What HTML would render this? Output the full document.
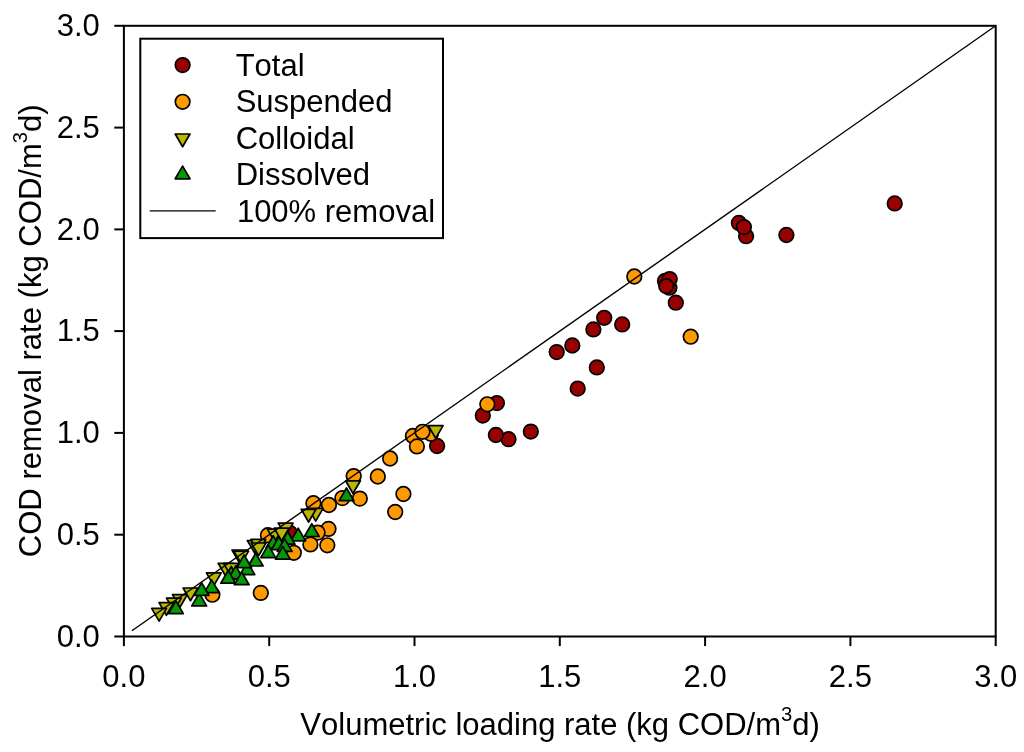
<!DOCTYPE html>
<html lang="en"><head><meta charset="utf-8"><title>COD removal rate vs volumetric loading rate</title>
<style>
html,body{margin:0;padding:0;background:#fff;}
body{width:1024px;height:752px;overflow:hidden;}
svg{display:block;}
text{font-family:"Liberation Sans",Arial,Helvetica,sans-serif;font-size:31px;fill:#000;font-kerning:none;}
.sup{font-size:20.2px;}
.ax{stroke:#000;stroke-width:2;fill:none;stroke-linecap:butt;}
.mk{stroke:#000;stroke-width:1.7;stroke-linejoin:round;}
</style></head><body>
<svg width="1024" height="752" viewBox="0 0 1024 752">
<rect x="0" y="0" width="1024" height="752" fill="#fff"/>

<g class="mk">
<circle cx="894.7" cy="203.4" r="7.3" fill="#990000"/>
<circle cx="786.4" cy="235.0" r="7.3" fill="#990000"/>
<circle cx="738.9" cy="222.9" r="7.3" fill="#990000"/>
<circle cx="746.1" cy="236.2" r="7.3" fill="#990000"/>
<circle cx="743.9" cy="227.1" r="7.3" fill="#990000"/>
<circle cx="556.7" cy="352.1" r="7.3" fill="#990000"/>
<circle cx="572.3" cy="345.5" r="7.3" fill="#990000"/>
<circle cx="593.4" cy="329.4" r="7.3" fill="#990000"/>
<circle cx="604.2" cy="317.8" r="7.3" fill="#990000"/>
<circle cx="622.2" cy="324.4" r="7.3" fill="#990000"/>
<circle cx="596.8" cy="367.4" r="7.3" fill="#990000"/>
<circle cx="577.7" cy="388.6" r="7.3" fill="#990000"/>
<circle cx="675.8" cy="302.7" r="7.3" fill="#990000"/>
<circle cx="665.0" cy="281.0" r="7.3" fill="#990000"/>
<circle cx="669.4" cy="287.7" r="7.3" fill="#990000"/>
<circle cx="669.7" cy="279.1" r="7.3" fill="#990000"/>
<circle cx="666.2" cy="286.1" r="7.3" fill="#990000"/>
<circle cx="530.8" cy="431.6" r="7.3" fill="#990000"/>
<circle cx="508.5" cy="439.2" r="7.3" fill="#990000"/>
<circle cx="495.9" cy="435.0" r="7.3" fill="#990000"/>
<circle cx="482.8" cy="415.5" r="7.3" fill="#990000"/>
<circle cx="496.9" cy="403.1" r="7.3" fill="#990000"/>
<circle cx="437.1" cy="446.0" r="7.3" fill="#990000"/>
<circle cx="289.9" cy="533.0" r="7.3" fill="#990000"/>
<circle cx="634.3" cy="276.5" r="7.3" fill="#ff9900"/>
<circle cx="690.7" cy="336.7" r="7.3" fill="#ff9900"/>
<circle cx="487.3" cy="404.3" r="7.3" fill="#ff9900"/>
<circle cx="412.9" cy="436.0" r="7.3" fill="#ff9900"/>
<circle cx="430.9" cy="433.8" r="7.3" fill="#ff9900"/>
<circle cx="422.5" cy="431.8" r="7.3" fill="#ff9900"/>
<circle cx="416.9" cy="446.4" r="7.3" fill="#ff9900"/>
<circle cx="403.4" cy="494.0" r="7.3" fill="#ff9900"/>
<circle cx="395.2" cy="512.0" r="7.3" fill="#ff9900"/>
<circle cx="390.1" cy="458.5" r="7.3" fill="#ff9900"/>
<circle cx="377.8" cy="476.5" r="7.3" fill="#ff9900"/>
<circle cx="353.7" cy="476.1" r="7.3" fill="#ff9900"/>
<circle cx="359.8" cy="498.6" r="7.3" fill="#ff9900"/>
<circle cx="342.4" cy="498.1" r="7.3" fill="#ff9900"/>
<circle cx="328.9" cy="505.0" r="7.3" fill="#ff9900"/>
<circle cx="313.4" cy="503.2" r="7.3" fill="#ff9900"/>
<circle cx="328.5" cy="528.9" r="7.3" fill="#ff9900"/>
<circle cx="317.6" cy="532.6" r="7.3" fill="#ff9900"/>
<circle cx="310.4" cy="544.4" r="7.3" fill="#ff9900"/>
<circle cx="327.3" cy="545.3" r="7.3" fill="#ff9900"/>
<circle cx="293.8" cy="552.8" r="7.3" fill="#ff9900"/>
<circle cx="267.9" cy="535.2" r="7.3" fill="#ff9900"/>
<circle cx="212.4" cy="594.7" r="7.3" fill="#ff9900"/>
<circle cx="260.8" cy="592.9" r="7.3" fill="#ff9900"/>
<path d="M428.3 425.6H443.1L435.7 438.3Z" fill="#b8b800"/>
<path d="M345.6 480.8H360.4L353.0 493.5Z" fill="#b8b800"/>
<path d="M308.3 508.4H323.1L315.7 521.1Z" fill="#b8b800"/>
<path d="M301.2 509.3H316.0L308.6 522.0Z" fill="#b8b800"/>
<path d="M278.2 523.1H293.0L285.6 535.8Z" fill="#b8b800"/>
<path d="M267.3 529.1H282.1L274.7 541.8Z" fill="#b8b800"/>
<path d="M274.2 528.2H289.0L281.6 540.9Z" fill="#b8b800"/>
<path d="M247.4 540.6H262.2L254.8 553.3Z" fill="#b8b800"/>
<path d="M250.9 539.4H265.7L258.3 552.1Z" fill="#b8b800"/>
<path d="M251.2 543.0H266.0L258.6 555.7Z" fill="#b8b800"/>
<path d="M232.0 550.0H246.8L239.4 562.7Z" fill="#b8b800"/>
<path d="M233.8 551.1H248.6L241.2 563.8Z" fill="#b8b800"/>
<path d="M218.2 563.3H233.0L225.6 576.0Z" fill="#b8b800"/>
<path d="M223.6 563.4H238.4L231.0 576.1Z" fill="#b8b800"/>
<path d="M206.4 572.9H221.2L213.8 585.6Z" fill="#b8b800"/>
<path d="M183.1 588.0H197.9L190.5 600.7Z" fill="#b8b800"/>
<path d="M172.5 594.6H187.3L179.9 607.3Z" fill="#b8b800"/>
<path d="M166.5 598.1H181.3L173.9 610.8Z" fill="#b8b800"/>
<path d="M159.0 602.6H173.8L166.4 615.3Z" fill="#b8b800"/>
<path d="M151.7 608.4H166.5L159.1 621.1Z" fill="#b8b800"/>
<path d="M339.1 500.7H353.9L346.5 488.0Z" fill="#069906"/>
<path d="M304.4 536.5H319.2L311.8 523.8Z" fill="#069906"/>
<path d="M290.8 540.9H305.6L298.2 528.2Z" fill="#069906"/>
<path d="M280.2 544.2H295.0L287.6 531.5Z" fill="#069906"/>
<path d="M265.8 548.4H280.6L273.2 535.7Z" fill="#069906"/>
<path d="M271.5 549.6H286.3L278.9 536.9Z" fill="#069906"/>
<path d="M277.2 551.4H292.0L284.6 538.7Z" fill="#069906"/>
<path d="M260.8 557.6H275.6L268.2 544.9Z" fill="#069906"/>
<path d="M275.4 559.1H290.2L282.8 546.4Z" fill="#069906"/>
<path d="M240.0 574.6H254.8L247.4 561.9Z" fill="#069906"/>
<path d="M248.3 566.0H263.1L255.7 553.3Z" fill="#069906"/>
<path d="M236.7 567.7H251.5L244.1 555.0Z" fill="#069906"/>
<path d="M223.9 579.2H238.7L231.3 566.5Z" fill="#069906"/>
<path d="M228.4 578.7H243.2L235.8 566.0Z" fill="#069906"/>
<path d="M220.8 583.2H235.6L228.2 570.5Z" fill="#069906"/>
<path d="M234.3 584.7H249.1L241.7 572.0Z" fill="#069906"/>
<path d="M204.3 592.6H219.1L211.7 579.9Z" fill="#069906"/>
<path d="M191.8 605.9H206.6L199.2 593.2Z" fill="#069906"/>
<path d="M194.2 595.4H209.0L201.6 582.7Z" fill="#069906"/>
<path d="M168.5 613.6H183.3L175.9 600.9Z" fill="#069906"/>
</g>
<line x1="131.9" y1="630.8" x2="995.7" y2="25.8" stroke="#000" stroke-width="1.4"/>
<rect class="ax" x="123.9" y="25.8" width="871.8" height="610.7"/>
<line class="ax" x1="123.9" y1="636.5" x2="123.9" y2="646.1"/>
<line class="ax" x1="123.9" y1="636.5" x2="114.30000000000001" y2="636.5"/>
<text x="123.9" y="687.4" text-anchor="middle">0.0</text>
<text x="99.8" y="646.7" text-anchor="end">0.0</text>
<line class="ax" x1="269.2" y1="636.5" x2="269.2" y2="646.1"/>
<line class="ax" x1="123.9" y1="534.7" x2="114.30000000000001" y2="534.7"/>
<text x="269.2" y="687.4" text-anchor="middle">0.5</text>
<text x="99.8" y="544.9" text-anchor="end">0.5</text>
<line class="ax" x1="414.5" y1="636.5" x2="414.5" y2="646.1"/>
<line class="ax" x1="123.9" y1="432.9" x2="114.30000000000001" y2="432.9"/>
<text x="414.5" y="687.4" text-anchor="middle">1.0</text>
<text x="99.8" y="443.1" text-anchor="end">1.0</text>
<line class="ax" x1="559.8" y1="636.5" x2="559.8" y2="646.1"/>
<line class="ax" x1="123.9" y1="331.1" x2="114.30000000000001" y2="331.1"/>
<text x="559.8" y="687.4" text-anchor="middle">1.5</text>
<text x="99.8" y="341.3" text-anchor="end">1.5</text>
<line class="ax" x1="705.1" y1="636.5" x2="705.1" y2="646.1"/>
<line class="ax" x1="123.9" y1="229.4" x2="114.30000000000001" y2="229.4"/>
<text x="705.1" y="687.4" text-anchor="middle">2.0</text>
<text x="99.8" y="239.6" text-anchor="end">2.0</text>
<line class="ax" x1="850.4" y1="636.5" x2="850.4" y2="646.1"/>
<line class="ax" x1="123.9" y1="127.6" x2="114.30000000000001" y2="127.6"/>
<text x="850.4" y="687.4" text-anchor="middle">2.5</text>
<text x="99.8" y="137.8" text-anchor="end">2.5</text>
<line class="ax" x1="995.7" y1="636.5" x2="995.7" y2="646.1"/>
<line class="ax" x1="123.9" y1="25.8" x2="114.30000000000001" y2="25.8"/>
<text x="995.7" y="687.4" text-anchor="middle">3.0</text>
<text x="99.8" y="36.0" text-anchor="end">3.0</text>
<text x="560.1" y="734.6" text-anchor="middle" style="font-size:31px">Volumetric loading rate (kg COD/m<tspan class="sup" dy="-13.2">3</tspan><tspan dy="13.2">d)</tspan></text>
<text transform="translate(40.5 330.8) rotate(-90)" text-anchor="middle" style="font-size:31.05px">COD removal rate (kg COD/m<tspan class="sup" dy="-13.2">3</tspan><tspan dy="13.2">d)</tspan></text>
<rect class="ax" x="140.3" y="38.7" width="302.7" height="199.4" fill="#fff"/>
<g class="mk">
<circle cx="182.6" cy="65.1" r="7.3" fill="#990000"/>
<circle cx="182.6" cy="101.8" r="7.3" fill="#ff9900"/>
<path d="M175.2 134.0H190.0L182.6 146.7Z" fill="#b8b800"/>
<path d="M175.2 178.8H190.0L182.6 166.1Z" fill="#069906"/>
</g>
<line x1="149.7" y1="210.9" x2="215.7" y2="210.9" stroke="#000" stroke-width="1.4"/>
<text x="235.7" y="75.6">Total</text>
<text x="235.7" y="112.2">Suspended</text>
<text x="235.7" y="148.8">Colloidal</text>
<text x="235.7" y="185.4">Dissolved</text>
<text x="236.9" y="222.0">100% removal</text>
</svg></body></html>
